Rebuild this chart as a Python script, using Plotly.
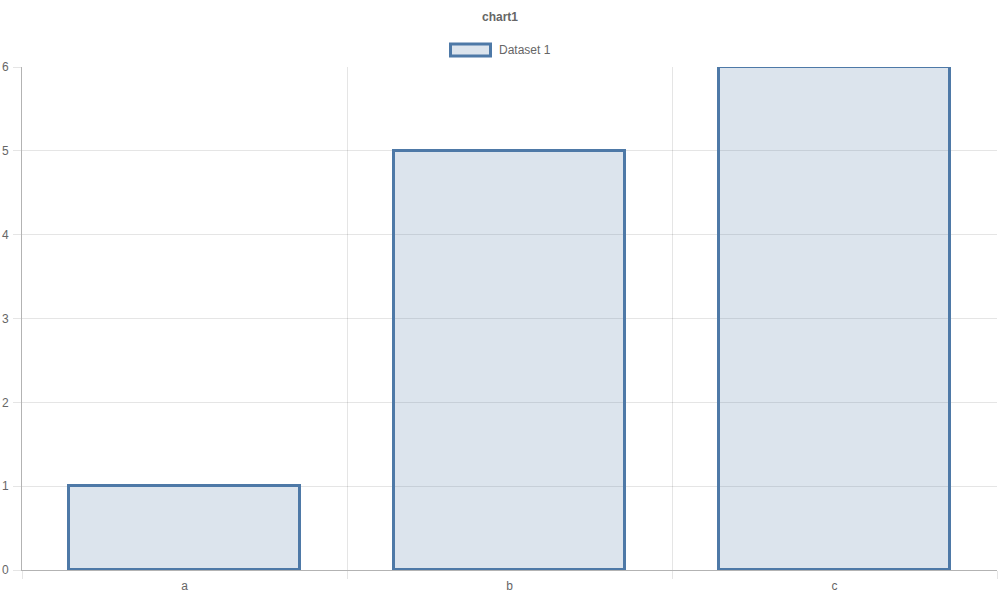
import plotly.graph_objects as go

categories = ["a", "b", "c"]
values = [1, 5, 6]
series_name = "Dataset 1"
title_text = "chart1"

line_color = "rgb(78,121,167)"
fill_color = "rgba(78,121,167,0.2)"
grid_color = "rgba(0,0,0,0.1)"
axis_color = "#b3b3b3"
text_color = "#666666"
font_family = "Liberation Sans, Arial, Helvetica, sans-serif"

fig = go.Figure()
fig.add_trace(go.Bar(
    x=categories, y=values, name=series_name,
    width=[0.71] * len(categories),
    marker=dict(color=fill_color, line=dict(color=line_color, width=3)),
    showlegend=False, cliponaxis=False,
))
# invisible trace on linear overlay axis to provide category-boundary grid
n = len(categories)
fig.add_trace(go.Scatter(x=[-0.5, n - 0.5], y=[0, 0], xaxis="x2", mode="markers",
                         marker=dict(opacity=0), showlegend=False, hoverinfo="skip"))

fig.update_layout(
    width=1000, height=600,
    plot_bgcolor="white", paper_bgcolor="white",
    margin=dict(l=22, r=3, t=67, b=30, autoexpand=False),
    font=dict(family=font_family, size=12, color=text_color),
    title=dict(text="<b>" + title_text + "</b>", x=0.5, xanchor="center", y=1 - 17 / 600,
               yanchor="middle", font=dict(size=12, color=text_color), automargin=False),
    bargap=0,
    xaxis=dict(type="category", range=[-0.5, n - 0.5], showgrid=False, showline=True,
               linecolor=axis_color, linewidth=1, ticks="", tickfont=dict(size=12, color=text_color),
               ticklabelstandoff=5, zeroline=False, automargin=False),
    xaxis2=dict(overlaying="x", side="bottom", range=[-0.5, n - 0.5], tickmode="array",
                tickvals=[i - 0.5 for i in range(n + 1)], showticklabels=False, ticks="outside",
                ticklen=8, tickcolor=grid_color, showgrid=True, gridcolor=grid_color,
                gridwidth=1, zeroline=False, showline=False, layer="below traces",
                automargin=False),
    yaxis=dict(range=[0, 6], dtick=1, showgrid=True, gridcolor=grid_color, gridwidth=1,
               showline=True, linecolor=axis_color, linewidth=1, ticks="outside", ticklen=8,
               tickcolor=grid_color, zeroline=False, tickfont=dict(size=12, color=text_color),
               ticklabelstandoff=2, automargin=False),
    shapes=[dict(type="rect", xref="paper", yref="paper",
                 x0=(450.5 - 22) / 975, x1=(490.5 - 22) / 975,
                 y0=1 + (67 - 56) / 503, y1=1 + (67 - 44) / 503,
                 line=dict(color=line_color, width=3), fillcolor=fill_color)],
    annotations=[dict(text=series_name, xref="paper", yref="paper",
                      x=(497 - 22) / 975, y=1 + (67 - 50) / 503, xanchor="left", yanchor="middle",
                      showarrow=False, font=dict(size=12, color=text_color))],
)

fig.write_html("out.html", config={"displayModeBar": False},
               post_script="document.body.style.margin='0';document.body.style.overflow='hidden';")
